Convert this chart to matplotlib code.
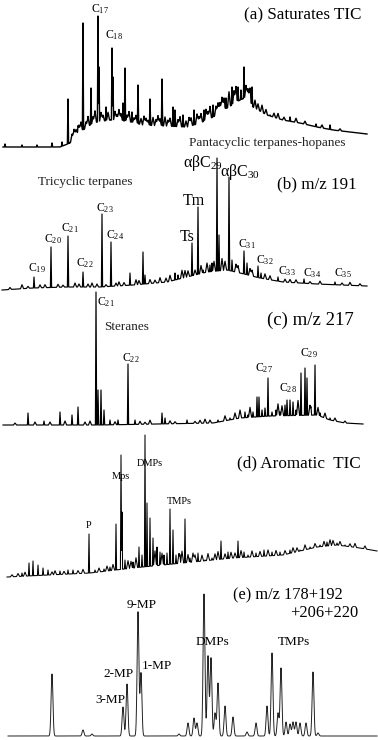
import numpy as np
import matplotlib
matplotlib.use("Agg")
import matplotlib.pyplot as plt

plt.rcParams['font.family'] = ['Liberation Serif', 'DejaVu Serif']
plt.rcParams['mathtext.fontset'] = 'custom'
plt.rcParams['mathtext.rm'] = 'Liberation Serif'
plt.rcParams['mathtext.it'] = 'Liberation Serif:italic'

# ---------------- Panel (a) Saturates TIC ----------------
a_base_x = [3, 60, 70, 77, 83, 90, 97, 110, 127, 143, 167, 187, 200, 213, 227, 240, 247, 253, 267, 283, 300, 317, 333, 350, 367]
a_base_y = [3, 3, 7, 17, 20, 25, 28, 30, 29, 25, 24, 23, 27, 33, 42, 50, 53, 43, 35, 30, 27, 23, 20, 18, 16]
a_peak_x = [5, 22, 37, 52, 62, 68, 78, 83, 91, 98, 99, 106, 112, 113, 123, 125, 132, 138, 150, 162, 173, 175, 183, 194, 204, 213, 226, 232, 238, 241, 244, 252, 270, 290, 316, 330]
a_peak_top = [6, 5, 5, 7, 8, 51, 22, 127, 62, 134, 83, 43, 102, 73, 47, 82, 38, 65, 51, 71, 43, 40, 35, 40, 40, 45, 52, 63, 63, 60, 83, 63, 35, 33, 26, 25]
a_minor_x = [72, 74, 76, 79, 81, 86, 88, 93, 95, 101, 103, 108, 115, 117, 119, 121, 127, 129, 134, 136, 141, 144, 146, 148, 153, 156, 158, 160, 165, 168, 170, 178, 180, 186, 189, 191, 197, 199, 201, 206, 208, 210, 216, 218, 220, 222, 224, 229, 234, 236, 246, 248, 250, 255, 258, 262, 266, 274, 278, 284, 296, 305, 322, 340]
a_minor_h = [6, 8, 5, 7, 9, 6, 10, 7, 12, 9, 6, 8, 9, 6, 11, 7, 6, 10, 5, 8, 6, 9, 7, 5, 8, 6, 10, 7, 9, 6, 8, 7, 10, 6, 9, 8, 10, 7, 9, 11, 8, 12, 9, 11, 10, 14, 12, 15, 13, 16, 12, 10, 14, 8, 6, 7, 5, 4, 5, 3, 4, 3, 3, 2]

# ---------------- Panel (b) m/z 191 ----------------
b_base_x = [2, 33, 67, 100, 133, 167, 187, 207, 227, 240, 260, 283, 317, 367]
b_base_y = [5, 7, 8, 8, 10, 13, 18, 23, 25, 22, 17, 13, 11, 9]
b_peak_x = [34, 51, 68, 83, 102, 111, 130, 143, 145, 175, 178, 192, 198, 203, 210, 212, 217, 219, 229, 232, 244, 247, 258, 261, 278, 304, 335]
b_peak_top = [18, 48, 59, 23, 81, 53, 22, 43, 20, 22, 20, 52, 88, 25, 30, 32, 137, 60, 118, 35, 44, 32, 29, 22, 18, 16, 13]
b_minor_x = [10, 22, 28, 40, 45, 58, 63, 75, 79, 88, 92, 97, 106, 116, 119, 124, 136, 139, 150, 155, 160, 166, 170, 182, 185, 188, 195, 201, 207, 214, 222, 225, 236, 238, 250, 252, 265, 270, 285, 290, 296, 310, 320, 342, 350, 360]
b_minor_h = [2, 4, 2, 3, 3, 3, 2, 4, 3, 3, 4, 3, 2, 3, 4, 3, 5, 4, 4, 3, 5, 4, 6, 8, 7, 6, 5, 8, 9, 10, 12, 9, 8, 7, 7, 6, 5, 4, 3, 3, 3, 2, 3, 2, 3, 2]

# ---------------- Panel (c) m/z 217 ----------------
c_base_x = [3, 100, 213, 240, 270, 317, 330, 345, 363]
c_base_y = [5, 5, 7, 12, 14, 15, 10, 7, 6]
c_peak_x = [28, 44, 60, 72, 78, 96, 98, 101, 104, 110, 118, 128, 135, 162, 165, 187, 218, 230, 245, 248, 253, 257, 259, 262, 265, 268, 272, 276, 280, 285, 287, 290, 293, 296, 301, 305, 307, 311, 315, 320, 330]
c_peak_top = [17, 9, 18, 15, 23, 138, 40, 40, 20, 10, 10, 66, 10, 17, 12, 10, 10, 12, 18, 15, 18, 33, 33, 20, 22, 52, 18, 20, 18, 25, 30, 30, 28, 20, 57, 62, 52, 20, 65, 17, 12]
c_minor_x = [15, 35, 50, 65, 85, 90, 115, 140, 145, 150, 170, 175, 195, 200, 205, 210, 225, 235, 240, 250, 278, 282, 298, 310, 318, 325, 335, 345]
c_minor_h = [2, 3, 3, 4, 3, 4, 3, 3, 2, 4, 3, 2, 2, 3, 4, 3, 5, 6, 8, 10, 12, 10, 15, 10, 8, 5, 3, 2]

# ---------------- Panel (d) Aromatic TIC ----------------
d_base_x = [7, 90, 133, 183, 233, 283, 317, 337, 360, 377]
d_base_y = [3, 7, 12, 17, 22, 25, 33, 35, 32, 29]
d_peak_x = [22, 29, 33, 38, 43, 48, 60, 68, 73, 89, 95, 104, 110, 116, 121, 122, 125, 133, 139, 142, 145, 147, 150, 153, 157, 160, 164, 167, 170, 173, 176, 180, 185, 190, 198, 205, 212, 221, 228, 238, 244, 248, 256, 264, 272, 280, 290, 300, 310, 320, 327, 337, 345]
d_peak_top = [7, 17, 19, 15, 12, 10, 9, 10, 10, 46, 10, 11, 13, 56, 125, 68, 20, 18, 33, 25, 145, 77, 62, 42, 33, 28, 25, 27, 71, 50, 25, 22, 61, 22, 27, 20, 22, 39, 28, 39, 28, 25, 27, 30, 28, 28, 30, 30, 33, 35, 38, 37, 35]
d_minor_x = [12, 18, 25, 52, 55, 64, 78, 83, 99, 107, 113, 128, 131, 136, 155, 162, 179, 182, 188, 193, 195, 202, 208, 215, 218, 225, 231, 235, 241, 252, 260, 268, 276, 285, 293, 297, 305, 315, 324, 330, 333, 340, 350, 355, 365]
d_minor_h = [2, 3, 4, 3, 4, 3, 3, 4, 4, 5, 6, 8, 7, 10, 15, 12, 10, 12, 8, 9, 7, 6, 7, 6, 8, 5, 6, 5, 7, 6, 5, 6, 5, 4, 5, 4, 5, 4, 5, 6, 5, 4, 3, 4, 3]

# ---------------- Panel (e) m/z 178+192+206+220 ----------------
e_base_x = [8, 100, 200, 300, 377]
e_base_y = [4, 4, 4, 4, 4]
e_peak_x = [52, 83, 92, 123, 127, 138, 141, 179, 188, 194, 197, 204, 208, 211, 215, 218, 225, 233, 247, 256, 267, 272, 278, 281, 286, 290, 293, 296, 300, 306, 313, 318]
e_peak_top = [66, 10, 6, 33, 56, 128, 67, 6, 17, 22, 17, 146, 84, 82, 27, 57, 34, 23, 8, 17, 34, 87, 27, 72, 18, 16, 18, 18, 17, 17, 68, 7]


def build_trace(bx, by, px, ptop, mx=(), mh=(), w=0.6, wm=1.5, gauss=False):
    x = np.arange(bx[0], bx[-1] + 0.05, 0.1)
    base = np.interp(x, bx, by)
    y = base.copy()
    for xi, ti in zip(px, ptop):
        h = ti - np.interp(xi, bx, by)
        if gauss:
            y += h * np.exp(-0.5 * ((x - xi) / w) ** 2)
        else:
            y += h * np.clip(1 - np.abs(x - xi) / w, 0, None)
    for xi, hi in zip(mx, mh):
        y += hi * np.clip(1 - np.abs(x - xi) / wm, 0, None)
    return x, y


W, H = 378, 740
fig = plt.figure(figsize=(W / 100, H / 100), dpi=100)


def panel(bottom, height):
    ax = fig.add_axes([0, 1 - bottom / H, 1, height / H])
    ax.set_xlim(0, W)
    ax.set_ylim(0, height)
    ax.axis('off')
    ax.patch.set_alpha(0)
    return ax


def clabel(ax, x, y, n, size=8.5):
    ax.text(x, y, r'C$_{\mathrm{%s}}$' % n, fontsize=size, ha='left', va='center')


# (a)
ax = panel(150, 150)
x, y = build_trace(a_base_x, a_base_y, a_peak_x, a_peak_top, a_minor_x, a_minor_h)
ax.plot(x, y, color='black', lw=1.0)
ax.text(362, 135, '(a) Saturates TIC', fontsize=12.3, ha='right', va='center')
clabel(ax, 91, 141, '17')
clabel(ax, 105, 115, '18')

# (b)
ax = panel(295, 145)
x, y = build_trace(b_base_x, b_base_y, b_peak_x, b_peak_top, b_minor_x, b_minor_h)
ax.plot(x, y, color='black', lw=0.85)
ax.text(267, 152, 'Pantacyclic terpanes-hopanes', fontsize=9.5, ha='center', va='center', color='#222222')
ax.text(85, 113, 'Tricyclic terpanes', fontsize=9.5, ha='center', va='center', color='#222222')
ax.text(357, 111, '(b) m/z 191', fontsize=12.3, ha='right', va='center')
ax.text(183, 132, r'αβC$_{\mathrm{29}}$', fontsize=11.5, ha='left', va='center')
ax.text(220, 123, r'αβC$_{\mathrm{30}}$', fontsize=11.5, ha='left', va='center')
ax.text(194, 94, 'Tm', fontsize=11.5, ha='center', va='center')
ax.text(187, 58, 'Ts', fontsize=11.5, ha='center', va='center')
for lx, ly, n in [(28, 27, '19'), (44, 56, '20'), (61, 67, '21'), (76, 32, '22'), (96, 87, '23'),
                  (106, 60, '24'), (238, 51, '31'), (256, 35, '32'), (278, 24, '33'), (303, 22, '34'), (334, 22, '35')]:
    clabel(ax, lx, ly, n)

# (c)
ax = panel(430, 140)
x, y = build_trace(c_base_x, c_base_y, c_peak_x, c_peak_top, c_minor_x, c_minor_h)
ax.plot(x, y, color='black', lw=0.85)
ax.text(127, 103, 'Steranes', fontsize=9.5, ha='center', va='center', color='#222222')
ax.text(354, 110, '(c) m/z 217', fontsize=13.5, ha='right', va='center')
for lx, ly, n in [(97, 128, '21'), (122, 72, '22'), (255, 62, '27'), (279, 42, '28'), (300, 77, '29')]:
    clabel(ax, lx, ly, n)

# (d)
ax = panel(580, 150)
x, y = build_trace(d_base_x, d_base_y, d_peak_x, d_peak_top, d_minor_x, d_minor_h)
ax.plot(x, y, color='black', lw=0.75)
ax.text(361, 117, '(d) Aromatic  TIC', fontsize=12.3, ha='right', va='center')
ax.text(89, 54, 'P', fontsize=7.5, ha='center', va='center')
ax.text(121, 103, 'Mps', fontsize=7.5, ha='center', va='center')
ax.text(150, 116, 'DMPs', fontsize=7.5, ha='center', va='center')
ax.text(179, 78, 'TMPs', fontsize=7.5, ha='center', va='center')

# (e)
ax = panel(740, 160)
x, y = build_trace(e_base_x, e_base_y, e_peak_x, e_peak_top, w=0.9, gauss=True)
ax.plot(x, y, color='#222222', lw=0.7)
ax.text(343, 145, '(e) m/z 178+192', fontsize=11.8, ha='right', va='center')
ax.text(358, 127, '+206+220', fontsize=11.8, ha='right', va='center')
for lx, ly, t in [(142, 135, '9-MP'), (119, 66, '2-MP'), (110, 40, '3-MP'), (157, 74, '1-MP'),
                  (212, 98, 'DMPs'), (294, 98, 'TMPs')]:
    ax.text(lx, ly, t, fontsize=9.5, ha='center', va='center')

fig.savefig('out.png', dpi=100, facecolor='white')
